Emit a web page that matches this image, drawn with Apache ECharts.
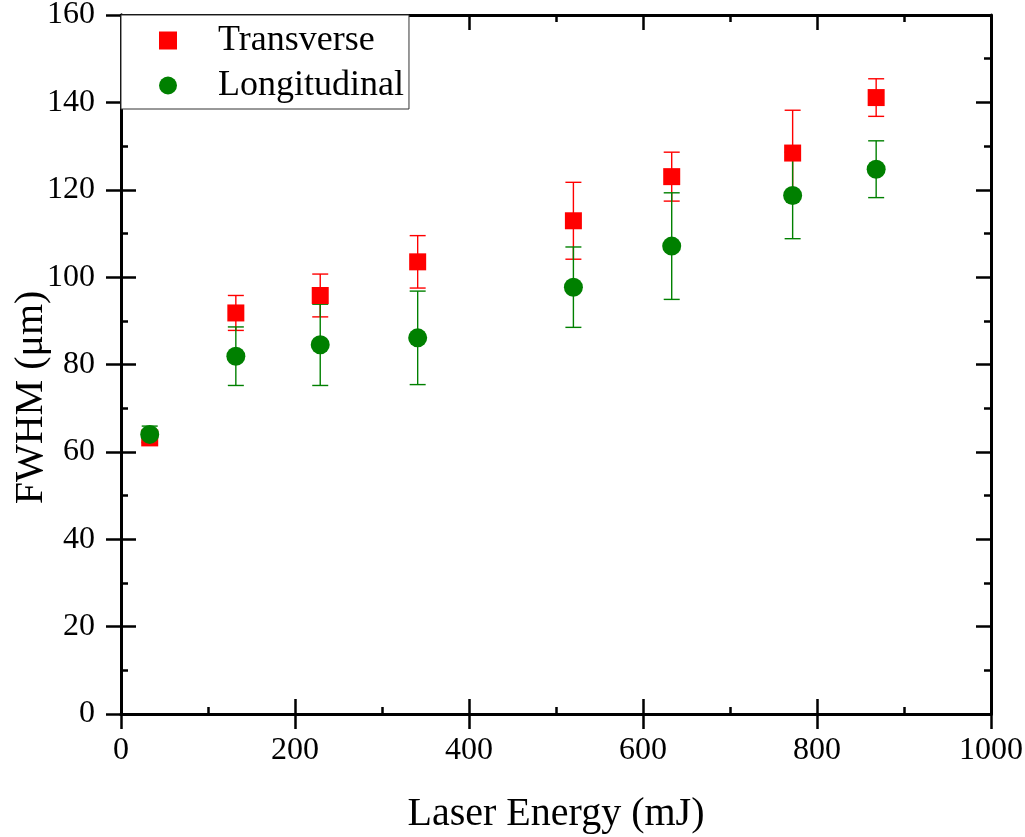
<!DOCTYPE html>
<html>
<head>
<meta charset="utf-8">
<script src="https://cdn.jsdelivr.net/npm/echarts@6/dist/echarts.min.js"></script>
<style>
  html, body { margin: 0; padding: 0; background: #fff; }
  #chart { width: 1025px; height: 837px; }
</style>
</head>
<body>
<div id="chart"></div>
<script>
// laser energy (mJ), shared by both series
const energy = [33, 132, 229, 341, 520, 633, 772, 868];

const transverse = [63.2, 91.8, 95.8, 103.5, 112.9, 123.0, 128.4, 141.1];
const transverseErr = [1.0, 4.0, 4.9, 6.0, 8.8, 5.6, 9.8, 4.3];

const longitudinal = [64.0, 81.9, 84.5, 86.1, 97.7, 107.1, 118.7, 124.7];
const longitudinalErr = [1.9, 6.7, 9.3, 10.7, 9.2, 12.2, 9.9, 6.5];

const xTicks = { min: 0, max: 1000, interval: 200 };
const yTicks = { min: 0, max: 160, interval: 20 };

const FONT = "Liberation Serif";

const chart = echarts.init(document.getElementById("chart"));

const errData = (vals, errs) =>
  energy.map((x, i) => [x, vals[i] - errs[i], vals[i] + errs[i]]);

function renderError(params, api) {
  const x = api.value(0);
  const top = api.coord([x, api.value(2)]);
  const bot = api.coord([x, api.value(1)]);
  const w = 8;
  const style = { stroke: api.visual("color"), lineWidth: 1.4 };
  return {
    type: "group",
    children: [
      { type: "line", shape: { x1: top[0], y1: top[1], x2: bot[0], y2: bot[1] }, style },
      { type: "line", shape: { x1: top[0] - w, y1: top[1], x2: top[0] + w, y2: top[1] }, style },
      { type: "line", shape: { x1: bot[0] - w, y1: bot[1], x2: bot[0] + w, y2: bot[1] }, style },
    ],
  };
}

const axisLine = { show: true, onZero: false, lineStyle: { color: "#000", width: 3 } };
const tickStyle = { color: "#000", width: 2.5 };
const inTick = { show: true, inside: true, length: 15, lineStyle: tickStyle };
const outTick = { show: true, inside: false, length: 15, lineStyle: tickStyle };
const minor = { show: true, splitNumber: 2, length: 7, lineStyle: tickStyle };
const labelStyle = { fontFamily: FONT, fontSize: 32, color: "#000" };

const baseX = { type: "value", min: xTicks.min, max: xTicks.max, interval: xTicks.interval, splitLine: { show: false } };
const baseY = { type: "value", min: yTicks.min, max: yTicks.max, interval: yTicks.interval, splitLine: { show: false } };
const rect = { left: 121, right: 34, top: 15, bottom: 123, containLabel: false, outerBoundsMode: "none" };

const option = {
  animation: false,
  backgroundColor: "#fff",
  // second grid only carries the outward half of the crossing major ticks
  grid: [Object.assign({}, rect), Object.assign({}, rect)],
  legend: {
    data: ["Transverse", "Longitudinal"],
    orient: "vertical",
    left: 121,
    top: 15,
    itemWidth: 18,
    itemHeight: 18,
    itemGap: 8,
    padding: [7, 5, 5, 38],
    borderColor: "#333",
    borderWidth: 1,
    backgroundColor: "#fff",
    textStyle: { fontFamily: FONT, fontSize: 36, color: "#000", lineHeight: 37, padding: [0, 0, 0, 36] },
  },
  xAxis: [
    Object.assign({}, baseX, {
      gridIndex: 0,
      position: "bottom",
      axisLine,
      axisTick: inTick,
      minorTick: minor,
      axisLabel: Object.assign({ margin: 21, formatter: (v) => String(v) }, labelStyle),
      name: "Laser Energy (mJ)",
      nameLocation: "middle",
      nameGap: 80,
      nameMoveOverlap: false,
      nameTextStyle: { fontFamily: FONT, fontSize: 40, color: "#000" },
    }),
    Object.assign({}, baseX, {
      gridIndex: 0,
      position: "top",
      axisLine,
      axisTick: inTick,
      minorTick: minor,
      axisLabel: { show: false },
    }),
    Object.assign({}, baseX, {
      gridIndex: 1,
      position: "bottom",
      axisLine,
      axisTick: outTick,
      axisLabel: { show: false },
    }),
  ],
  yAxis: [
    Object.assign({}, baseY, {
      gridIndex: 0,
      position: "left",
      axisLine,
      axisTick: inTick,
      minorTick: minor,
      axisLabel: Object.assign({ margin: 26 }, labelStyle),
      name: "FWHM (\u03bcm)",
      nameLocation: "middle",
      nameGap: 70,
      nameMoveOverlap: false,
      nameTextStyle: { fontFamily: FONT, fontSize: 40, color: "#000", padding: [0, 66, 0, 0] },
    }),
    Object.assign({}, baseY, {
      gridIndex: 0,
      position: "right",
      axisLine,
      axisTick: inTick,
      minorTick: minor,
      axisLabel: { show: false },
    }),
    Object.assign({}, baseY, {
      gridIndex: 1,
      position: "left",
      axisLine,
      axisTick: outTick,
      axisLabel: { show: false },
    }),
  ],
  series: [
    {
      name: "Transverse err",
      type: "custom",
      renderItem: renderError,
      itemStyle: { color: "#ff0000" },
      encode: { x: 0, y: [1, 2] },
      data: errData(transverse, transverseErr),
    },
    {
      name: "Transverse",
      type: "scatter",
      symbol: "rect",
      symbolSize: 17,
      itemStyle: { color: "#ff0000", opacity: 1 },
      data: energy.map((x, i) => [x, transverse[i]]),
    },
    {
      name: "Longitudinal err",
      type: "custom",
      renderItem: renderError,
      itemStyle: { color: "#008000" },
      encode: { x: 0, y: [1, 2] },
      data: errData(longitudinal, longitudinalErr),
    },
    {
      name: "Longitudinal",
      type: "scatter",
      symbol: "circle",
      symbolSize: 19,
      itemStyle: { color: "#008000", opacity: 1 },
      data: energy.map((x, i) => [x, longitudinal[i]]),
    },
  ],
};

chart.setOption(option);
</script>
</body>
</html>
